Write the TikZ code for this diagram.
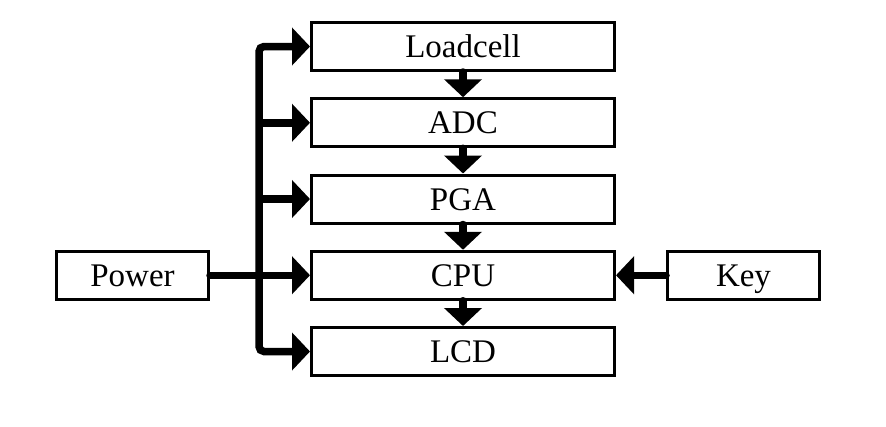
\documentclass[tikz,border=0pt]{standalone}
\usepackage{fontspec}
\setmainfont{Liberation Serif}
\usetikzlibrary{arrows.meta}
\begin{document}
\begin{tikzpicture}[x=1pt,y=-1pt,
  blk/.style={draw,line width=3pt,minimum width=303pt,minimum height=48pt,inner sep=0pt,
    font=\fontsize{33}{38}\selectfont,text height=22pt,text depth=0pt},
  sblk/.style={blk,minimum width=152pt},
  conn/.style={line width=7.5pt,line cap=round,-{Triangle[width=37pt,length=18pt]}},
  bus/.style={line width=7.5pt,rounded corners=5pt,{Triangle[width=37pt,length=18pt]}-{Triangle[width=37pt,length=18pt]}}]
\useasboundingbox[fill=white] (0,0) rectangle (886,426);
\node[blk] (load) at (463,46.5) {Loadcell};
\node[blk] (adc) at (463,122.75) {ADC};
\node[blk] (pga) at (463,199) {PGA};
\node[blk] (cpu) at (463,275.25) {CPU};
\node[blk] (lcd) at (463,351.5) {LCD};
\node[sblk] (power) at (132.5,275.25) {Power};
\node[sblk] (key) at (743.5,275.25) {Key};
\coordinate (bt) at (259,46.5);
\coordinate (bb) at (259,351.5);
\coordinate (ba) at (259,122.75);
\coordinate (bp) at (259,199);
\draw[bus] (load.west) -- (bt) -- (bb) -- (lcd.west);
\draw[conn,line cap=butt] (ba) -- (adc.west);
\draw[conn,line cap=butt] (bp) -- (pga.west);
\draw[conn] (power.east) -- (cpu.west);
\draw[conn] (key.west) -- (cpu.east);
\draw[conn] (load.south) -- (adc.north);
\draw[conn] (adc.south) -- (pga.north);
\draw[conn] (pga.south) -- (cpu.north);
\draw[conn] (cpu.south) -- (lcd.north);
\end{tikzpicture}
\end{document}
